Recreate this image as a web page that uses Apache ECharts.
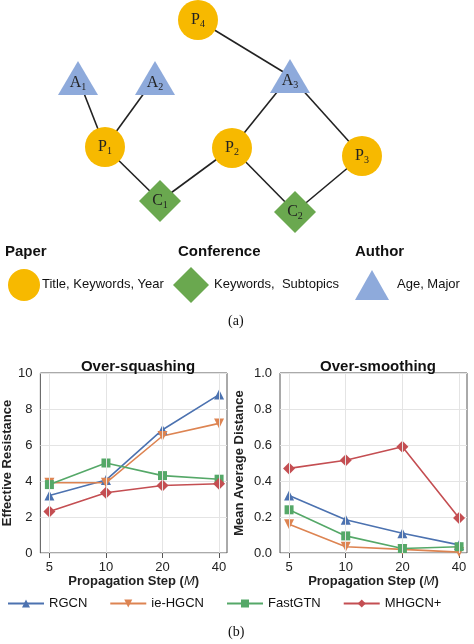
<!DOCTYPE html><html><head><meta charset="utf-8">
<script src="https://cdn.jsdelivr.net/npm/echarts@6/dist/echarts.min.js"></script>
<style>html,body{margin:0;background:#fff}#c{width:474px;height:644px}</style></head><body><div id="c"></div>
<script>
const steps=['5','10','20','40'];
const seriesNames=['RGCN','ie-HGCN','FastGTN','MHGCN+'];
const resistance=[[3.2,4.05,6.85,8.8],[3.9,3.9,6.5,7.2],[3.8,5.0,4.3,4.1],[2.3,3.35,3.75,3.85]];
const distance=[[0.32,0.185,0.11,0.045],[0.16,0.035,0.02,0.005],[0.24,0.095,0.025,0.035],[0.47,0.515,0.59,0.195]];
const colors=['#4c72b0','#dd8452','#55a868','#c44e52'];
const symbols=['triangle','path://M0,0L10,0L5,10Z','rect','diamond'];
const nodeNames=['P1','P2','P3','P4','A1','A2','A3','C1','C2'];
const nodeX=[105,232,362,198,78,155,290,160,295];
const nodeY=[147,148,156,20,78,78,76,201,212];
const edges=[['A1','P1'],['A2','P1'],['P1','C1'],['C1','P2'],['P2','A3'],['A3','P4'],['A3','P3'],['P2','C2'],['C2','P3']];
const F='Liberation Sans, Arial, sans-serif';
const typeStyle={P:{symbol:'circle',size:40,color:'#f7b900'},A:{symbol:'triangle',size:[40,34],color:'#8eaadb'},C:{symbol:'diamond',size:42,color:'#6aa84f'}};
const chart=echarts.init(document.getElementById('c'));
const nodes=nodeNames.map((n,i)=>{const t=typeStyle[n[0]];return{name:n,value:[nodeX[i],nodeY[i]],symbol:t.symbol,symbolSize:t.size,itemStyle:{color:t.color},
 label:{show:true,position:'inside',formatter:'{a|'+n[0]+'}{s|'+n.slice(1)+'}',offset:[0,n[0]==='A'?5:0],rich:{a:{fontSize:16,fontFamily:'Liberation Serif, serif',color:'#222'},s:{fontSize:10,fontFamily:'Liberation Serif, serif',color:'#222',verticalAlign:'bottom',padding:[8,0,0,0]}}}}});
function grid(i){return{left:i?280:39,width:i?187:188,top:373,height:180,show:true,borderColor:'#555',borderWidth:1};}
const grids=[grid(0),grid(1),{left:0,top:0,width:474,height:644}];
const xAxes=[0,1].map(i=>({gridIndex:i,type:'value',min:-0.16,max:3.14,axisLine:{show:false},splitLine:{show:false},
 axisTick:{show:true,customValues:[0,1,2,3],lineStyle:{color:'#555'}},
 axisLabel:{customValues:[0,1,2,3],formatter:v=>steps[Math.round(v)],fontSize:13,color:'#222',fontFamily:F},
 name:'{b|Propagation Step (}{i|M}{b|)}',nameLocation:'middle',nameGap:20,nameTextStyle:{rich:{b:{fontWeight:'bold',fontSize:13,fontFamily:F,color:'#222'},i:{fontStyle:'italic',fontSize:13,fontFamily:F,color:'#222'}}}}));
xAxes.push({gridIndex:2,type:'value',min:0,max:474,show:false});
const yAxes=[{gridIndex:0,min:0,max:10,interval:2,name:'Effective Resistance'},{gridIndex:1,min:0,max:1,interval:0.2,name:'Mean Average Distance',fmt:v=>v.toFixed(1)}].map(a=>({
 gridIndex:a.gridIndex,type:'value',min:a.min,max:a.max,interval:a.interval,axisLine:{show:false},axisTick:{show:false},
 splitLine:{lineStyle:{color:'#e4e4e4'}},axisLabel:{fontSize:13,color:'#222',fontFamily:F,formatter:a.fmt},
 name:a.name,nameLocation:'middle',nameGap:a.gridIndex?34:25,nameTextStyle:{fontWeight:'bold',fontSize:13,fontFamily:F,color:'#222'}}));
yAxes.push({gridIndex:2,type:'value',min:0,max:644,inverse:true,show:false});
const series=[];
[resistance,distance].forEach((data,g)=>{
 data.forEach((vals,k)=>series.push({type:'line',name:seriesNames[k],xAxisIndex:g,yAxisIndex:g,data:vals.map((v,j)=>[j,v]),
  color:colors[k],symbol:symbols[k],symbolSize:k===2?9:(k===3?12:10),lineStyle:{width:1.6},
  markLine:k===0?{silent:true,symbol:'none',label:{show:false},lineStyle:{color:'#e4e4e4',type:'solid',width:1},data:[0,1,2,3].map(x=>[{coord:[x,g?0:0]},{coord:[x,g?1:10]}])}:undefined}));
});
series.push({type:'graph',coordinateSystem:'cartesian2d',xAxisIndex:2,yAxisIndex:2,data:nodes,
 links:edges.map(e=>({source:e[0],target:e[1]})),lineStyle:{color:'#222',width:1.6,opacity:1},z:1});
const keyX=[24,191,372],keySym=['P','C','A'];
series.push({type:'scatter',xAxisIndex:2,yAxisIndex:2,data:keySym.map((t,i)=>({value:[keyX[i],285],symbol:typeStyle[t].symbol,symbolSize:t==='P'?32:(t==='C'?36:[34,30]),itemStyle:{color:typeStyle[t].color,opacity:1}})),silent:true});
const txt=(x,y,s,o)=>({type:'text',left:x,top:y,style:Object.assign({text:s,fontSize:13,fontFamily:F,fill:'#111'},o||{})});
chart.setOption({animation:false,grid:grids,xAxis:xAxes,yAxis:yAxes,series,
 title:[{text:'Over-squashing',left:133,top:354,textAlign:'center',textStyle:{fontSize:15,fontWeight:'bold',fontFamily:F,color:'#111'}},
        {text:'Over-smoothing',left:373,top:354,textAlign:'center',textStyle:{fontSize:15,fontWeight:'bold',fontFamily:F,color:'#111'}}],
 legend:{top:592,left:2,itemGap:22,itemWidth:36,itemHeight:10,textStyle:{fontSize:13,fontFamily:F,color:'#111'},data:seriesNames},
 graphic:[txt(5,244,'Paper',{fontWeight:'bold',fontSize:15}),txt(178,244,'Conference',{fontWeight:'bold',fontSize:15}),txt(355,244,'Author',{fontWeight:'bold',fontSize:15}),
  txt(42,278,'Title, Keywords, Year'),txt(214,278,'Keywords,  Subtopics'),txt(397,278,'Age, Major'),
  txt(228,314,'(a)',{fontFamily:'Liberation Serif, serif',fontSize:14}),txt(228,625,'(b)',{fontFamily:'Liberation Serif, serif',fontSize:14})]});
</script></body></html>
